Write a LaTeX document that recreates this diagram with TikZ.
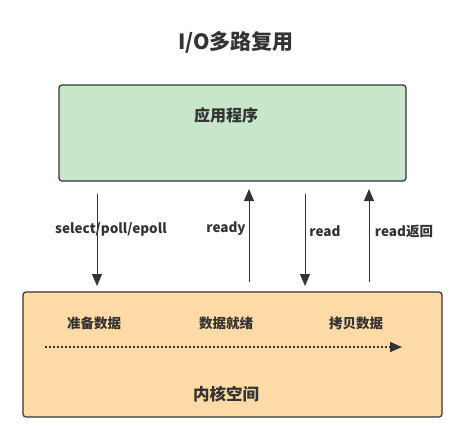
\documentclass[tikz,border=0pt]{standalone}
\usepackage{fontspec}
\setmainfont{Noto Sans CJK SC}
\usepackage{xcolor}
\usetikzlibrary{arrows.meta}
\definecolor{appgreen}{HTML}{C7E6CA}
\definecolor{kernorange}{HTML}{FDDAA6}
\definecolor{boxline}{HTML}{333333}
\begin{document}
\begin{tikzpicture}[x=1pt,y=-1pt,font=\bfseries,
    box/.style = {draw=boxline, line width=1.2pt, rounded corners=3pt},
    lbl/.style = {text=boxline, font=\fontsize{13.5}{16}\selectfont\bfseries},
    call/.style = {-{Triangle[length=12pt,width=10pt]}, line width=1pt, draw=boxline}]
        \useasboundingbox (0,0) rectangle (474,440);
        \node[text=boxline, font=\fontsize{21}{24}\selectfont\bfseries] (title) at (236,42) {I/O多路复用};
        \begin{scope}
            \filldraw[box, fill=appgreen] (59,85) rectangle (406,181);
            \filldraw[box, fill=kernorange] (23,292) rectangle (442,417);
        \end{scope}
        \node[text=boxline, font=\fontsize{16}{18}\selectfont\bfseries] (app) at (226,115) {应用程序};
        \node[text=boxline, font=\fontsize{16.5}{18}\selectfont\bfseries] (kern) at (226,394) {内核空间};
        \begin{scope}[every node/.style = {lbl}]
            \node (prep) at (94,323) {准备数据};
            \node (done) at (226,323) {数据就绪};
            \node (copy) at (356,323) {拷贝数据};
            \node (sel) at (111,229) {select/poll/epoll};
            \node (rdy) at (226,229) {ready};
            \node (rd) at (325,231) {read};
            \node (rdret) at (404,231) {read返回};
        \end{scope}
        \coordinate (s1) at (97,194);   \coordinate (e1) at (97,286);
        \coordinate (s2) at (249,282);  \coordinate (e2) at (249,189);
        \coordinate (s3) at (305,194);  \coordinate (e3) at (305,286);
        \coordinate (s4) at (369,282);  \coordinate (e4) at (369,189);
        \coordinate (t0) at (45,347);   \coordinate (t1) at (402,347);
        \begin{scope}
            \draw[call] (s1) -- (e1);
            \draw[call] (s2) -- (e2);
            \draw[call] (s3) -- (e3);
            \draw[call] (s4) -- (e4);
            \draw[call, line width=1.3pt, dash pattern=on 2pt off 2pt] (t0) -- (t1);
        \end{scope}
    \end{tikzpicture}
\end{document}
